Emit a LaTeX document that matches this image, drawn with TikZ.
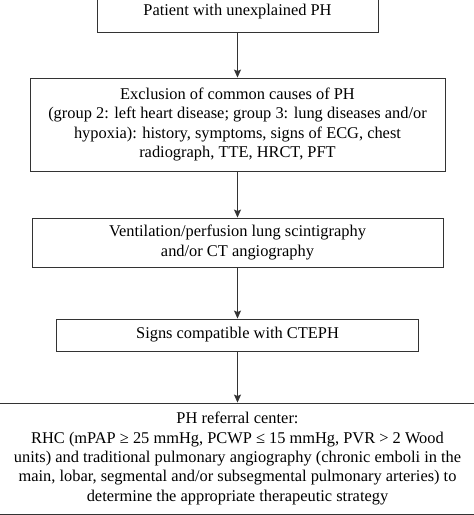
\documentclass[tikz,border=0pt]{standalone}
\usepackage{fontspec}
\setmainfont{Liberation Serif}
\usepackage{xcolor}
\usetikzlibrary{arrows.meta,positioning}
\definecolor{cLine}{HTML}{333333}
\tikzset{
  >={Stealth[length=8pt,width=7pt,inset=1.5pt]},
  stepbox/.style={draw=cLine,line width=0.9pt,inner sep=0pt,align=center,
    font=\fontsize{16.4}{19.3}\selectfont},
  flow/.style={->,cLine,line width=0.9pt},
}
\begin{document}
\begin{tikzpicture}[x=1pt,y=-1pt]
  \useasboundingbox (0,0) rectangle (474,515);
  % boxes (pixel coordinates, y downwards)
  \node[stepbox,minimum width=281pt,minimum height=40pt] (patient) at (237.5,12)
    {\raisebox{3pt}{Patient with unexplained PH}};
  \node[stepbox,minimum width=415pt,minimum height=93pt] (exclusion) at (237.5,124.5)
    {Exclusion of common causes of PH\\
     (group 2: left heart disease; group 3: lung diseases and/or\\
     hypoxia): history, symptoms, signs of ECG, chest\\
     radiograph, TTE, HRCT, PFT};
  \node[stepbox,minimum width=411pt,minimum height=49pt] (scinti) at (237.5,242.5)
    {Ventilation/perfusion lung scintigraphy\\
     and/or CT angiography};
  \node[stepbox,minimum width=362pt,minimum height=32pt] (signs) at (237.5,335)
    {Signs compatible with CTEPH};
  \node[stepbox,minimum width=478pt,minimum height=111pt] (center) at (237.5,458.5)
    {PH referral center:\\
     RHC (mPAP ≥ 25 mmHg, PCWP ≤ 15 mmHg, PVR > 2 Wood\\
     units) and traditional pulmonary angiography (chronic emboli in the\\
     main, lobar, segmental and/or subsegmental pulmonary arteries) to\\
     determine the appropriate therapeutic strategy};
  % arrows
  \draw[flow] (patient.south) -- (exclusion.north);
  \draw[flow] (exclusion.south) -- (scinti.north);
  \draw[flow] (scinti.south) -- (signs.north);
  \draw[flow] (signs.south) -- (center.north);
\end{tikzpicture}
\end{document}
